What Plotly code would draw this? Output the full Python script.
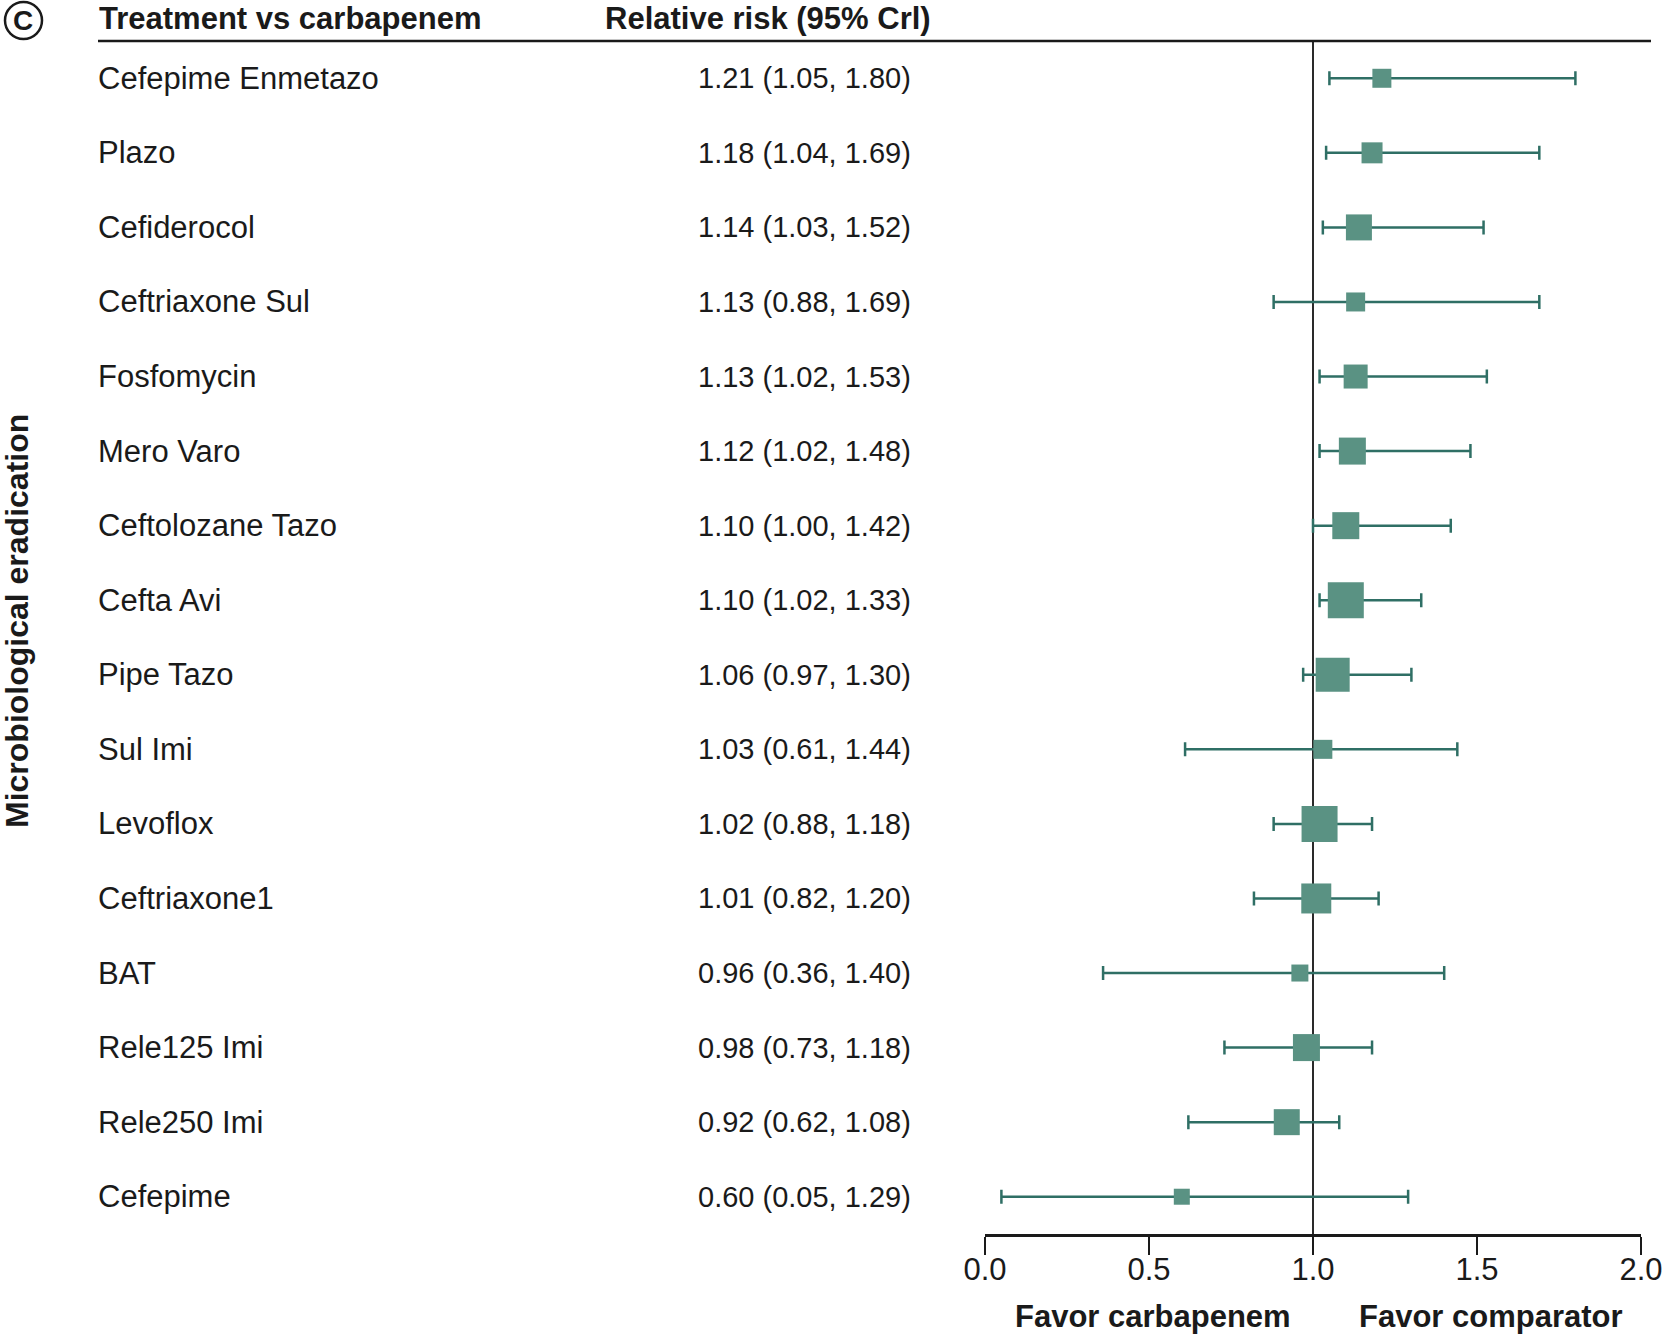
import plotly.graph_objects as go

# ---- data ----
treatments = ["Cefepime Enmetazo", "Plazo", "Cefiderocol", "Ceftriaxone Sul", "Fosfomycin",
              "Mero Varo", "Ceftolozane Tazo", "Cefta Avi", "Pipe Tazo", "Sul Imi",
              "Levoflox", "Ceftriaxone1", "BAT", "Rele125 Imi", "Rele250 Imi", "Cefepime"]
rr = [1.21, 1.18, 1.14, 1.13, 1.13, 1.12, 1.10, 1.10, 1.06, 1.03, 1.02, 1.01, 0.96, 0.98, 0.92, 0.60]
lo = [1.05, 1.04, 1.03, 0.88, 1.02, 1.02, 1.00, 1.02, 0.97, 0.61, 0.88, 0.82, 0.36, 0.73, 0.62, 0.05]
hi = [1.80, 1.69, 1.52, 1.69, 1.53, 1.48, 1.42, 1.33, 1.30, 1.44, 1.18, 1.20, 1.40, 1.18, 1.08, 1.29]
weights = [19, 21, 26, 19, 24, 27, 27, 36, 34, 19, 36, 30, 17, 27, 26, 16]
tick_vals = [0.0, 0.5, 1.0, 1.5, 2.0]
tick_text = ["0.0", "0.5", "1.0", "1.5", "2.0"]

W, H = 1664, 1335
FONT = "Liberation Sans, Arial, Helvetica, sans-serif"
TXT = "#1a1a1a"
FILL = "#5a9283"
LINE = "#2f6f65"

rows = list(range(len(treatments)))
labels = [f"{r:.2f} ({a:.2f}, {b:.2f})" for r, a, b in zip(rr, lo, hi)]

# plot area geometry (pixels)
top_px, bot_px = 41, 1234
x0_px, x1_px = 985, 1641

fig = go.Figure()
fig.add_trace(go.Scatter(
    x=rr, y=rows, mode="markers",
    marker=dict(symbol="square", size=weights, color=FILL, opacity=1, line=dict(width=0)),
    error_x=dict(type="data", symmetric=False,
                 array=[h - r for h, r in zip(hi, rr)],
                 arrayminus=[r - l for r, l in zip(rr, lo)],
                 color=LINE, thickness=2.5, width=7),
    showlegend=False, hoverinfo="skip", cliponaxis=False,
))

annotations = []
for i, (name, lab) in enumerate(zip(treatments, labels)):
    annotations.append(dict(x=96 / W, xref="paper", y=i, yref="y", text=name,
                            xanchor="left", yanchor="middle", showarrow=False,
                            font=dict(family=FONT, size=31, color=TXT)))
    annotations.append(dict(x=913 / W, xref="paper", y=i, yref="y", text=lab,
                            xanchor="right", yanchor="middle", showarrow=False,
                            font=dict(family=FONT, size=29, color=TXT)))

# headers
annotations += [
    dict(x=97 / W, xref="paper", y=1 - 18 / H, yref="paper", text="<b>Treatment vs carbapenem</b>",
         xanchor="left", yanchor="middle", showarrow=False, font=dict(family=FONT, size=31, color=TXT)),
    dict(x=603 / W, xref="paper", y=1 - 18 / H, yref="paper", text="<b>Relative risk (95% Crl)</b>",
         xanchor="left", yanchor="middle", showarrow=False, font=dict(family=FONT, size=31, color=TXT)),
    dict(x=23 / W, xref="paper", y=1 - 20 / H, yref="paper", text="<b>C</b>",
         xanchor="center", yanchor="middle", showarrow=False, font=dict(family=FONT, size=28, color=TXT)),
    dict(x=17 / W, xref="paper", y=1 - 621 / H, yref="paper", text="<b>Microbiological eradication</b>",
         textangle=-90, xanchor="center", yanchor="middle", showarrow=False,
         font=dict(family=FONT, size=32, color=TXT)),
    dict(x=1153 / W, xref="paper", y=1 - 1316 / H, yref="paper", text="<b>Favor carbapenem</b>",
         xanchor="center", yanchor="middle", showarrow=False, font=dict(family=FONT, size=31, color=TXT)),
    dict(x=1491 / W, xref="paper", y=1 - 1316 / H, yref="paper", text="<b>Favor comparator</b>",
         xanchor="center", yanchor="middle", showarrow=False, font=dict(family=FONT, size=31, color=TXT)),
]

shapes = [
    # header rule
    dict(type="line", xref="paper", yref="paper", x0=98 / W, x1=1651 / W,
         y0=1 - top_px / H, y1=1 - top_px / H, line=dict(color="#1a1a1a", width=2.5)),
    # null line at 1.0
    dict(type="line", xref="x", yref="paper", x0=1.0, x1=1.0,
         y0=1 - bot_px / H, y1=1 - top_px / H, line=dict(color="#2a2a2a", width=2),
         layer="below"),
    # circle around C
    dict(type="circle", xref="paper", yref="paper",
         x0=5 / W, x1=42 / W, y0=1 - 39 / H, y1=1 - 2 / H,
         line=dict(color=TXT, width=2.5)),
]

fig.update_layout(
    width=W, height=H,
    margin=dict(l=0, r=0, t=0, b=0, autoexpand=False),
    paper_bgcolor="white", plot_bgcolor="white",
    xaxis=dict(domain=[x0_px / W, x1_px / W], range=[0, 2.0],
               tickvals=tick_vals, ticktext=tick_text, automargin=False,
               showline=True, linecolor="#1a1a1a", linewidth=2.5,
               ticks="outside", ticklen=18, tickwidth=2, tickcolor="#1a1a1a",
               ticklabelstandoff=-12,
               tickfont=dict(family=FONT, size=31, color=TXT),
               showgrid=False, zeroline=False, fixedrange=True),
    yaxis=dict(domain=[1 - bot_px / H, 1 - top_px / H], range=[15.5, -0.5], automargin=False,
               visible=False, showgrid=False, zeroline=False, fixedrange=True),
    annotations=annotations,
    shapes=shapes,
)

fig.write_html("out.html")
